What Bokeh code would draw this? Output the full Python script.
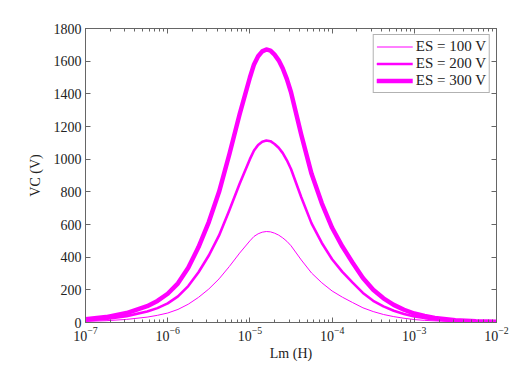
from bokeh.plotting import figure
from bokeh.models import LogAxis, LinearAxis, LogTicker, SingleIntervalTicker, Range1d
from bokeh.embed import file_html
from bokeh.resources import INLINE

# Data
log_lm = [-7, -6.75, -6.5, -6.25, -6.125, -6, -5.875, -5.75, -5.625, -5.5, -5.375, -5.25,
          -5.125, -5, -4.95, -4.9, -4.85, -4.8, -4.75, -4.7, -4.65, -4.6, -4.55, -4.5,
          -4.375, -4.25, -4.125, -4, -3.875, -3.75, -3.625, -3.5, -3.375, -3.25, -3.125,
          -3, -2.875, -2.75, -2.5, -2.25, -2]
lm = [10 ** v for v in log_lm]

vc_300 = [20, 33, 58, 100, 132, 176, 240, 335, 462, 615, 800, 1030,
          1275, 1500, 1580, 1630, 1660, 1672, 1665, 1640, 1605, 1555, 1490, 1410,
          1150, 910, 730, 580, 465, 366, 272, 200, 148, 108, 78,
          55, 40, 28, 14, 8, 5]
vc_200 = [13, 22, 39, 67, 88, 117, 160, 223, 308, 410, 533, 687,
          850, 1000, 1053, 1087, 1107, 1114, 1110, 1093, 1070, 1037, 993, 940,
          767, 607, 487, 387, 310, 244, 181, 133, 99, 72, 52,
          37, 27, 19, 10, 6, 4]
vc_100 = [7, 11, 19, 33, 44, 58, 80, 112, 154, 205, 267, 343,
          425, 500, 527, 543, 553, 557, 555, 547, 535, 518, 497, 470,
          383, 303, 243, 193, 155, 122, 90, 67, 49, 36, 26,
          18, 13, 10, 5, 3, 2]

labels = ["ES = 100 V", "ES = 200 V", "ES = 300 V"]
series = [vc_100, vc_200, vc_300]
widths = [1, 2.6, 4.5]

FONT = "Liberation Serif"
AXC = "#666666"

p = figure(width=512, height=377, x_axis_type="log",
           x_range=Range1d(1e-7, 1e-2), y_range=Range1d(0, 1800),
           output_backend="svg", toolbar_location=None,
           min_border_left=85, min_border_right=16, min_border_top=28, min_border_bottom=55)

for ys, lab, w in zip(series, labels, widths):
    p.line(lm, ys, line_color="#ff00ff", line_width=w, legend_label=lab,
           line_join="round", line_cap="round")

p.xgrid.visible = False
p.ygrid.visible = False
p.outline_line_color = AXC
p.background_fill_color = "white"
p.border_fill_color = "white"

def style(ax, labels_on=True):
    ax.axis_line_color = AXC
    ax.major_tick_line_color = AXC
    ax.minor_tick_line_color = AXC
    ax.major_tick_in = 5
    ax.major_tick_out = 0
    ax.minor_tick_in = 3
    ax.minor_tick_out = 0
    if labels_on:
        ax.major_label_text_font = FONT
        ax.major_label_text_font_size = "14px"
        ax.major_label_text_color = "#222222"
        ax.axis_label_text_font = FONT
        ax.axis_label_text_font_size = "14px"
        ax.axis_label_text_font_style = "normal"
        ax.axis_label_text_color = "#222222"
    else:
        ax.major_label_text_font_size = "1px"
        ax.major_label_text_alpha = 0
        ax.major_label_standoff = 0

p.xaxis.ticker = LogTicker(num_minor_ticks=10)
p.yaxis.ticker = SingleIntervalTicker(interval=200, num_minor_ticks=0)
p.xaxis.axis_label = "Lm (H)"
p.yaxis.axis_label = "VC (V)"
style(p.xaxis[0])
style(p.yaxis[0])
p.xaxis.major_label_standoff = 4
p.yaxis.major_label_standoff = 4
p.xaxis.axis_label_standoff = 2
p.yaxis.axis_label_standoff = 8

top = LogAxis(ticker=LogTicker(num_minor_ticks=10))
style(top, labels_on=False)
p.add_layout(top, "above")
right = LinearAxis(ticker=SingleIntervalTicker(interval=200, num_minor_ticks=0))
style(right, labels_on=False)
p.add_layout(right, "right")

lg = p.legend[0]
lg.location = "top_right"
lg.label_text_font = FONT
lg.label_text_font_size = "15px"
lg.label_text_color = "#222222"
lg.border_line_color = AXC
lg.background_fill_alpha = 1
lg.glyph_width = 36
lg.glyph_height = 17
lg.label_height = 17
lg.spacing = 0
lg.padding = 3
lg.margin = 6
lg.label_standoff = 3

open("out.html", "w").write(file_html(p, INLINE))
